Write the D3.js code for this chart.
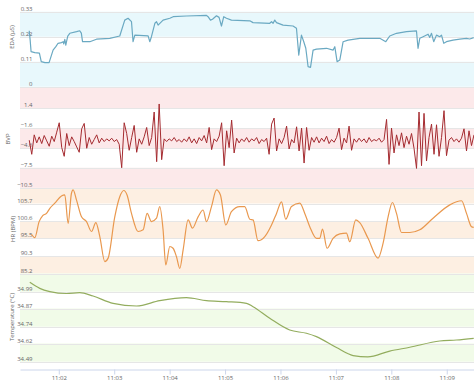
<!DOCTYPE html>
<html><head><meta charset="utf-8">
<script src="https://cdn.jsdelivr.net/npm/d3@7"></script>
<style>body{margin:0;background:#fff}svg{display:block}text{font-family:"Open Sans","DejaVu Sans",sans-serif}</style>
</head><body><svg id="c" width="474" height="385"></svg>
<script>
// time values are seconds after 11:00:00
const edaTime=[88,89,90,94,99,101,105,109.5,113.8,116.8,119.2,122.9,124.7,125.4,126.5,127.6,128.3,129.7,131.9,139.2,142.7,144.4,145.7,153.6,160.8,175.2,186,191.4,195,198.7,200.4,202.3,216.7,218.5,220.3,224,225.8,227.5,232.9,240.2,243.8,258.2,279.9,281.6,284.2,286.4,290.7,293.5,296.1,298.6,301.5,306.9,326.8,330.3,348.4,350.3,352,353.8,355.7,362.8,373.6,377.3,379.8,382.7,385.2,387.4,389.9,392.5,395.3,399,409.8,417,418.8,421.3,424.2,427.8,433.2,445.8,467.5,474,478.3,485.6,496.4,507.2,508.9,510.8,514.4,519.8,521.6,523.5,525.9,528.9,532.4,534.3,536.8,539.7,546.8,554.1,561.3,564.9,569.2];
const edaValue=[0.246,0.205,0.154,0.150,0.148,0.110,0.106,0.106,0.161,0.176,
0.191,0.194,0.198,0.188,0.208,0.183,0.197,0.223,0.235,0.242,
0.246,0.236,0.198,0.198,0.209,0.213,0.223,0.293,0.301,0.286,
0.198,0.227,0.224,0.198,0.220,0.279,0.286,0.271,0.293,0.301,
0.308,0.311,0.314,0.308,0.293,0.297,0.312,0.305,0.267,0.308,
0.301,0.293,0.290,0.282,0.279,0.286,0.279,0.293,0.282,0.271,
0.267,0.257,0.139,0.227,0.198,0.169,0.088,0.085,0.161,0.165,
0.169,0.161,0.176,0.110,0.117,0.198,0.205,0.213,0.213,0.198,
0.223,0.235,0.242,0.246,0.169,0.213,0.220,0.231,0.217,0.235,
0.198,0.227,0.220,0.227,0.191,0.198,0.205,0.209,0.213,0.210,0.216];

// BVP samples, evenly spaced from bvpStart to bvpEnd
const bvpStart=88, bvpEnd=569.5;
const bvpValue=[-3.4,-5.5,-2.6,-3.8,-2.9,-3.9,-2.7,-3.5,-4.3,-2.8,
-3.6,-2.2,-0.8,-4.5,-5.8,-2.4,-4.2,-2.9,-3.6,-4.4,
-5.2,-1.7,-0.9,-4.6,-3.0,-4.0,-3.3,-2.6,-3.8,-3.1,
-3.6,-3.2,-3.5,-3.1,-3.6,-3.3,-4.0,-7.5,-0.8,-2.4,
-4.9,-3.0,-1.2,-5.2,-3.2,-4.0,-2.9,-1.5,-4.2,-3.0,
0.8,-6.6,2.0,-6.3,-3.2,-3.6,-3.2,-3.5,-3.0,-3.6,
-3.3,-3.7,-3.2,-3.6,-2.9,-3.8,-3.2,-3.9,-3.0,-3.5,
-2.7,-3.8,-1.5,-4.8,-3.2,-3.6,-2.8,-0.8,-7.2,-2.0,
-4.5,-0.4,-5.3,-3.1,-3.8,-3.2,-3.6,-3.0,-3.7,-3.2,
-3.5,-3.0,-3.9,-3.3,-3.6,-3.1,-5.5,-1.0,-0.1,-5.0,
-3.2,-3.9,-3.0,-1.3,-4.7,-3.3,-3.8,-1.4,-5.0,-1.6,
-6.8,-1.5,-4.9,-3.0,-3.7,-2.9,-3.8,-3.1,-3.6,-2.8,
-3.9,-3.3,-3.7,-3.0,-1.6,-4.8,-3.1,-3.8,-1.3,-4.9,
-3.2,-3.7,-3.1,-3.6,-3.2,-3.8,-3.0,-3.6,-3.3,-3.5,
-3.1,-3.7,-3.3,-0.3,-7.0,-1.6,-5.3,-2.6,-4.2,-2.3,
-4.5,-2.8,-4.0,-2.4,-4.6,-7.6,0.8,-7.2,0.6,-6.5,
-3.0,-1.0,-5.5,-1.1,-5.8,-3.0,1.0,-5.7,-3.4,-3.0,
-3.6,-3.2,-3.7,-3.1,-1.7,-5.0,-2.0,-4.2,-2.6];

const hrTime=[90.4,94.0,98.7,102.4,106.7,110.3,115.7,122.9,126.5,130.1,133.7,135.5,139.2,144.6,150.0,155.4,160.1,164.4,169.8,173.4,180.6,186.0,190.4,193.9,198.7,205.8,211.3,215.6,220.3,225.8,229.3,232.9,235.8,240.2,243.7,247.4,251.0,254.6,260.0,264.7,270.8,276.2,279.9,285.3,290.7,295.0,300.8,306.9,315.9,321.3,326.8,330.3,335.7,343.0,350.3,355.7,361.1,365.7,371.9,380.9,386.3,391.7,399.0,402.5,405.5,410.4,416.9,424.2,431.4,435.0,441.5,445.8,454.8,465.6,471.1,476.5,481.2,485.6,491.0,500.0,510.8,525.2,543.3,556.0,561.4,566.8,569.2];
const hrValue=[96.7,95.7,100.4,102.1,102.8,104.3,105.8,107.9,108.2,99.9,
108.7,109.7,106.7,101.8,100.4,97.5,100.1,96.0,88.7,89.7,
101.8,107.7,109.5,108.2,102.8,97.5,98.0,102.8,100.4,101.4,
104.8,98.0,87.7,93.1,92.6,90.1,86.7,92.1,100.9,98.5,
101.8,103.8,100.4,104.8,109.7,108.2,99.4,103.3,104.8,104.8,
101.1,100.9,94.8,96.0,99.4,102.8,106.2,101.1,104.8,105.8,
102.8,98.9,95.5,95.5,98.2,92.6,95.5,96.8,97.0,94.5,
100.9,100.1,95.5,89.7,94.1,101.8,106.0,102.8,97.2,97.2,
98.0,101.4,105.3,106.5,102.8,98.9,98.7];

const tempTime=[88.6,99.4,110.3,128.3,142.7,157.1,178.8,204.1,229.3,258.2,279.9,301.5,323.2,330.3,348.4,370.0,388.1,398.9,420.6,438.6,454.5,478.3,500.0,532.4,550.5,569.2];
const tempValue=[35.057,35.014,34.991,34.977,34.984,34.959,34.907,34.888,34.926,34.947,34.926,34.919,34.907,34.883,34.800,34.716,34.693,34.669,34.591,34.534,34.524,34.566,34.593,34.638,34.645,34.657];

const edaTicks=[0,0.11,0.22,0.33];
const bvpTicks=[-10.5,-7.5,-4.6,-1.6,1.4];
const hrTicks=[85.2,90.3,95.5,100.6,105.7];
const tempTicks=[34.49,34.62,34.74,34.87,34.99];
const titles=["EDA (μS)","BVP","HR (BPM)","Temperature (°C)"];
const xStart=78, xEnd=569.5;

const base=new Date(2020,0,1,11,0,0);
const toDate=s=>new Date(base.getTime()+s*1000);
const svg=d3.select("#c");
const L=20,R=474;
const x=d3.scaleTime().domain([toDate(xStart),toDate(xEnd)]).range([L,R]);

const panels=[
 {title:titles[0],t:edaTime,v:edaValue,ticks:edaTicks,fmt:d3.format(".2~f"),domain:[0,0.33],range:[86.7,11.7],top:11.7,bottom:86.7,color:"#6aa9c2",band:"#e8f8fc",tx:12,ty:37,curve:d3.curveLinear,w:1.2},
 {title:titles[1],t:bvpValue.map((d,i)=>bvpStart+i*(bvpEnd-bvpStart)/(bvpValue.length-1)),v:bvpValue,ticks:bvpTicks,fmt:d3.format(".1f"),domain:[-10.52,1.4],range:[188,108],top:88,bottom:188,color:"#a52b30",band:"#fce9ea",tx:7.5,ty:139,curve:d3.curveLinear,w:1},
 {title:titles[2],t:hrTime,v:hrValue,ticks:hrTicks,fmt:d3.format(".1f"),domain:[85.2,105.7],range:[273.5,203.5],top:188,bottom:273.5,color:"#e9984e",band:"#fdefe2",tx:12.5,ty:229,curve:d3.curveMonotoneX,w:1.2},
 {title:titles[3],t:tempTime,v:tempValue,ticks:tempTicks,fmt:d3.format(".2f"),domain:[34.49,34.99],range:[361.7,291.7],top:273.5,bottom:369.5,color:"#93ad5e",band:"#f1fbe8",tx:12,ty:317,curve:d3.curveMonotoneX,w:1.2}
];

const gBands=svg.append("g"), gGrid=svg.append("g"), gLab=svg.append("g"), gLines=svg.append("g");
panels.forEach(p=>{
  const y=d3.scaleLinear().domain(p.domain).range(p.range);
  const tk=p.ticks.slice().sort((a,b)=>a-b);
  const px=tk.map(y);
  // intervals: below lowest tick (j=-1), between ticks j=0.., above top tick j=n-1
  const bounds=[];
  if(p.bottom>px[0]+0.5) bounds.push({y0:px[0],y1:p.bottom,j:-1});
  for(let j=0;j<px.length-1;j++) bounds.push({y0:px[j+1],y1:px[j],j:j});
  if(p.top<px[px.length-1]-0.5) bounds.push({y0:p.top,y1:px[px.length-1],j:px.length-1});
  gBands.selectAll(null).data(bounds.filter(b=>b.j>=0&&b.j%2===0)).enter().append("rect")
    .attr("x",L).attr("width",R-L).attr("y",b=>b.y0).attr("height",b=>b.y1-b.y0).attr("fill",p.band);
  gGrid.selectAll(null).data(tk).enter().append("line")
    .attr("x1",L).attr("x2",R).attr("y1",d=>Math.round(y(d))+0.5).attr("y2",d=>Math.round(y(d))+0.5)
    .attr("stroke","#e6e6e6").attr("stroke-width",1);
  gLab.selectAll(null).data(tk).enter().append("text")
    .attr("x",32.5).attr("y",d=>y(d)-1).attr("text-anchor","end")
    .attr("font-size",6).attr("fill","#666").text(d=>p.fmt(d));
  gLab.append("text").attr("transform",`translate(${p.tx},${p.ty}) rotate(-90)`)
    .attr("text-anchor","middle").attr("dominant-baseline","central")
    .attr("font-size",6).attr("fill","#666").text(p.title);
  const data=p.t.map((t,i)=>[toDate(t),p.v[i]]);
  gLines.append("path").datum(data)
    .attr("d",d3.line().x(d=>x(d[0])).y(d=>y(d[1])).curve(p.curve))
    .attr("fill","none").attr("stroke",p.color).attr("stroke-width",p.w).attr("stroke-linejoin","round");
});

const ax=svg.append("g").attr("transform","translate(0,369.5)")
  .call(d3.axisBottom(x).ticks(d3.timeMinute.every(1)).tickFormat(d3.timeFormat("%H:%M")).tickSize(5).tickSizeOuter(0));
ax.select(".domain").attr("stroke","#ccd6eb");
ax.selectAll(".tick line").attr("stroke","#ccd6eb");
ax.selectAll(".tick text").attr("fill","#666").attr("font-size",6).attr("y",6).attr("font-family",'"Open Sans","DejaVu Sans",sans-serif');
</script></body></html>
